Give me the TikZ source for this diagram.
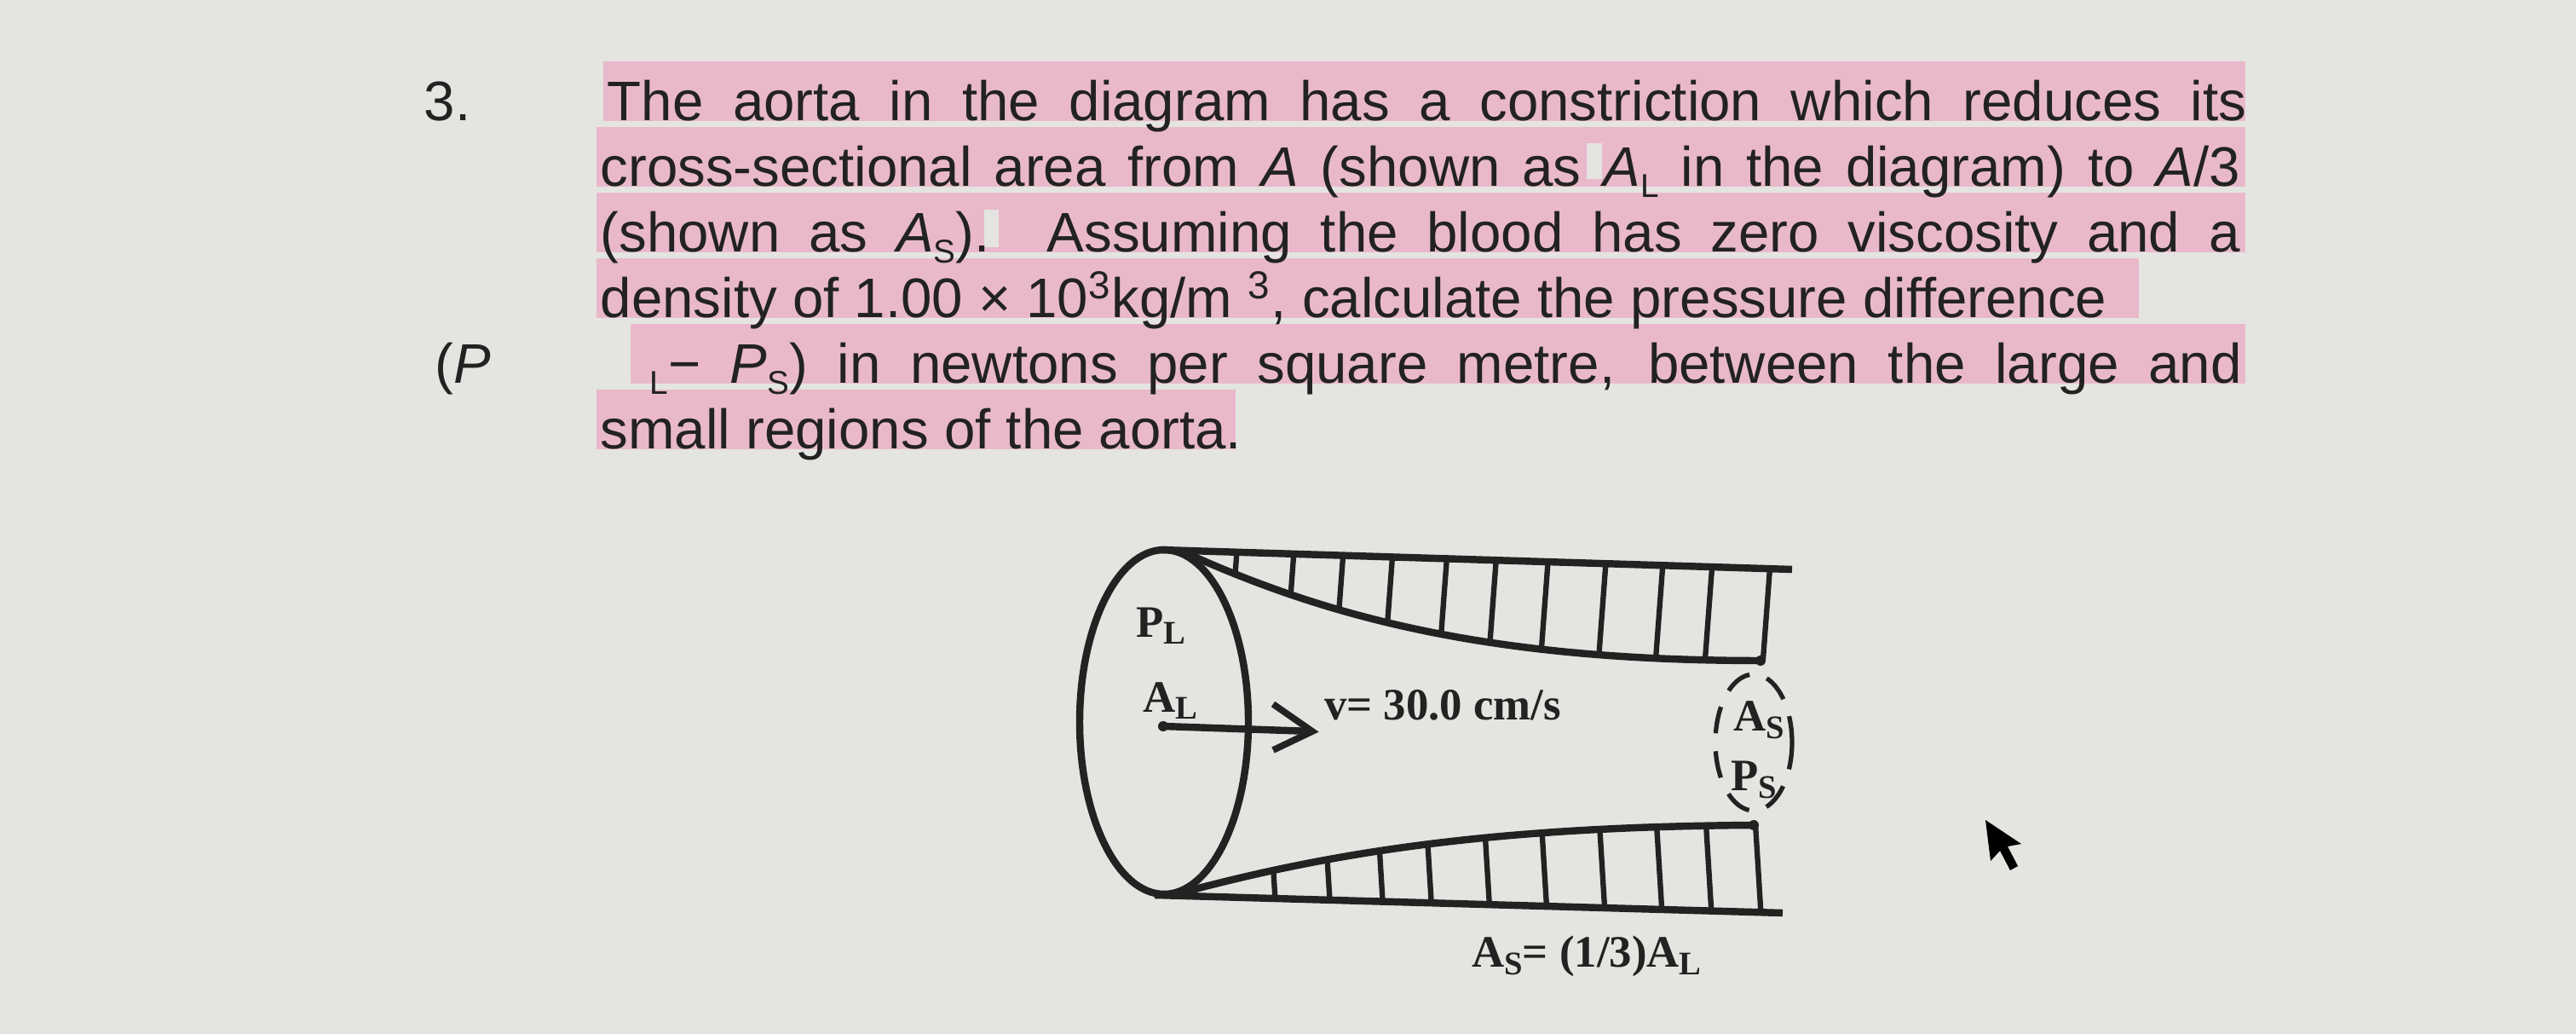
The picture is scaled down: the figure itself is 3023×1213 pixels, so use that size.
\documentclass[tikz,border=0pt]{standalone}
\usepackage{fontspec}
\setmainfont{Liberation Sans}
\newfontfamily\diagf{Liberation Serif}
\definecolor{paper}{HTML}{E4E4E0}
\definecolor{hl}{HTML}{E9B9CB}
\definecolor{ink}{HTML}{222222}
\newcommand{\jline}[1]{\makebox[1924\unitlength][s]{#1}}
\setlength{\unitlength}{0.01cm}
\newcommand{\sub}[1]{\raisebox{-0.35ex}{\fontsize{11}{11}\selectfont #1}}
\begin{document}
\begin{tikzpicture}[x=0.01cm,y=-0.01cm,
  txt/.style={anchor=base west,inner sep=0,text=ink,font=\fontsize{18.6}{20}\selectfont},
  lab/.style={inner sep=0,text=ink,font=\diagf\bfseries\fontsize{15}{16}\selectfont},
  wall/.style={ink,line width=2.4pt},
  hatch/.style={ink,line width=1.8pt}]
\fill[paper] (0,0) rectangle (3023,1213);
\useasboundingbox (0,0) rectangle (3023,1213);
% highlights
\foreach \y/\a/\b in {120/708/2635,197/700/2635,274/700/2635,351/700/2510,428/740/2635,505/700/1450}
  \fill[hl] (\a,\y-48) rectangle (\b,\y+22);
\fill[paper] (1862,168) rectangle (1880,210);
\fill[paper] (1155,246) rectangle (1172,290);
\node[txt] (n3) at (497,142) {3.};
\node[txt] (l1) at (712,142) {\jline{The aorta in the diagram has a constriction which reduces its}};
\node[txt] (l2) at (704,219) {\jline{cross-sectional area from \textit{A} (shown as \textit{A}\sub{L} in the diagram) to \textit{A}/3}};
\node[txt] (l3) at (704,296) {\jline{(shown as \textit{A}\sub{S}).\ \ Assuming the blood has zero viscosity and a}};
\node[txt] (l4) at (704,373) {density of 1.00 × 10\textsuperscript{3}kg/m \textsuperscript{3}, calculate the pressure difference};
\node[txt] (p) at (510,450) {(\textit{P}};
\node[txt] (l5) at (762,450) {\makebox[1868\unitlength][s]{\sub{L}− \textit{P}\sub{S}) in newtons per square metre, between the large and}};
\node[txt] (l6) at (704,527) {small regions of the aorta.};
% diagram
\begin{scope}
\clip (1390,648) -- (2103,668) -- (2080,776) -- (2066,775) .. controls (1750,770) and (1560,720) .. (1390,648);
\foreach \x in {1446,1513,1571,1629,1693,1751,1812,1880,1947,2005,2073}
  \draw[hatch] (\x+6,640) -- (\x-6,800);
\end{scope}
\begin{scope}
\clip (1380,1049) .. controls (1560,1000) and (1750,970) .. (2058,968) -- (2075,968) -- (2092,1072) -- (1380,1052) -- cycle;
\foreach \x in {1494,1558,1620,1677,1745,1812,1880,1947,2005,2063}
  \draw[hatch] (\x-4,950) -- (\x+4,1080);
\end{scope}
\draw[wall] (1366,847) ellipse [x radius=99, y radius=202];
\coordinate (tl) at (1390,648); \coordinate (bl) at (1380,1049);
\coordinate (ti) at (2066,775); \coordinate (bi) at (2058,968);
\draw[wall] (1362,645) -- (2103,668);
\draw[wall] (1355,1050) -- (2092,1071);
\draw[wall] (tl) .. controls (1560,725) and (1750,775) .. (ti);
\draw[wall] (bl) .. controls (1560,1000) and (1750,970) .. (bi);
\fill[ink] (ti) circle (6); \fill[ink] (bi) circle (6);
\coordinate (d) at (1365,852); \coordinate (ah) at (1540,858);
\fill[ink] (d) circle (6);
\draw[ink,line width=2.4pt] (d) -- (ah);
\draw[ink,line width=2.2pt] (1494,826) -- (ah) -- (1494,880);
\draw[ink,line width=1.5pt,dash pattern=on 9pt off 6pt] (2058,871) ellipse [x radius=45, y radius=80];
\node[lab] (PL) at (1362,734) {P\sub{L}};
\node[lab] (AL) at (1373,822) {A\sub{L}};
\node[lab] (v) at (1693,827) {v= 30.0 cm/s};
\node[lab] (AS) at (2064,845) {A\sub{S}};
\node[lab] (PS) at (2058,915) {P\sub{S}};
\node[lab] (eq) at (1862,1122) {A\sub{S}= (1/3)A\sub{L}};
% cursor
\fill[black] (2330,962) -- (2336,1010) -- (2347,998) -- (2359,1021) -- (2368,1016) -- (2356,993) -- (2372,990) -- cycle;
\end{tikzpicture}
\end{document}
